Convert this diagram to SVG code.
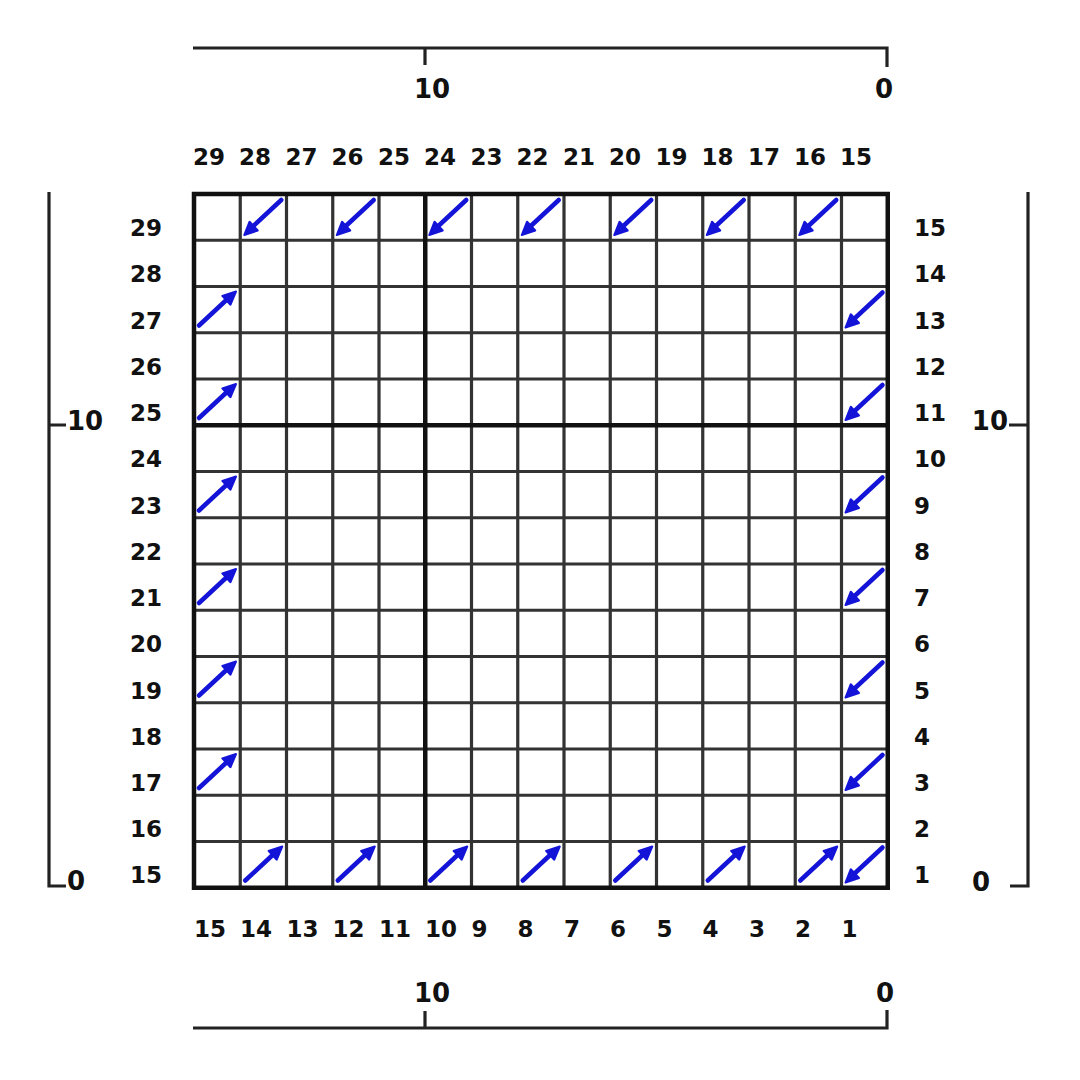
<svg xmlns="http://www.w3.org/2000/svg" xmlns:xlink="http://www.w3.org/1999/xlink" width="1080" height="1080" viewBox="0 0 1080 1080">
<style>
.t{font-family:"DejaVu Sans","Liberation Sans",sans-serif;font-weight:bold;font-size:23px;fill:#111}
.s{font-family:"DejaVu Sans","Liberation Sans",sans-serif;font-weight:bold;font-size:26px;fill:#111}
.g{stroke:#333;stroke-width:3.2;fill:none}
.k{stroke:#111;stroke-width:4.5;fill:none}
.b{stroke:#222;stroke-width:3.2;fill:none}
.a{stroke:#1414d8;stroke-width:4.5;fill:none;stroke-linecap:round}
.h{fill:#1414d8;stroke:#1414d8;stroke-width:2;stroke-linejoin:round}
</style>
<defs>
<g id="ne"><line class="a" x1="5" y1="39" x2="34" y2="12"/><polygon class="h" points="42,5 36.5,18.2 28.3,9.4"/></g>
<g id="sw"><line class="a" x1="41" y1="6" x2="12" y2="33"/><polygon class="h" points="4,41 17.5,36.5 9.3,27.7"/></g>
</defs>
<rect width="1080" height="1080" fill="#fff"/>
<g id="grid">
<path class="g" d="M240.25,194V888M286.5,194V888M332.75,194V888M379,194V888M471.5,194V888M517.75,194V888M564,194V888M610.25,194V888M656.5,194V888M702.75,194V888M749,194V888M795.25,194V888M841.5,194V888"/>
<path class="g" d="M194,240.25H888M194,286.5H888M194,332.75H888M194,379H888M194,471.5H888M194,517.75H888M194,564H888M194,610.25H888M194,656.5H888M194,702.75H888M194,749H888M194,795.25H888M194,841.5H888"/>
<path class="k" d="M425.25,194V888M194,425.25H888"/>
<rect class="k" x="194" y="194" width="693.75" height="693.75"/>
</g>
<g id="arrows">
<use xlink:href="#sw" x="240.25" y="194"/>
<use xlink:href="#sw" x="332.75" y="194"/>
<use xlink:href="#sw" x="425.25" y="194"/>
<use xlink:href="#sw" x="517.75" y="194"/>
<use xlink:href="#sw" x="610.25" y="194"/>
<use xlink:href="#sw" x="702.75" y="194"/>
<use xlink:href="#sw" x="795.25" y="194"/>
<use xlink:href="#ne" x="194" y="286.5"/>
<use xlink:href="#ne" x="194" y="379"/>
<use xlink:href="#ne" x="194" y="471.5"/>
<use xlink:href="#ne" x="194" y="564"/>
<use xlink:href="#ne" x="194" y="656.5"/>
<use xlink:href="#ne" x="194" y="749"/>
<use xlink:href="#sw" x="841.5" y="286.5"/>
<use xlink:href="#sw" x="841.5" y="379"/>
<use xlink:href="#sw" x="841.5" y="471.5"/>
<use xlink:href="#sw" x="841.5" y="564"/>
<use xlink:href="#sw" x="841.5" y="656.5"/>
<use xlink:href="#sw" x="841.5" y="749"/>
<use xlink:href="#sw" x="841.5" y="841.5"/>
<use xlink:href="#ne" x="240.25" y="841.5"/>
<use xlink:href="#ne" x="332.75" y="841.5"/>
<use xlink:href="#ne" x="425.25" y="841.5"/>
<use xlink:href="#ne" x="517.75" y="841.5"/>
<use xlink:href="#ne" x="610.25" y="841.5"/>
<use xlink:href="#ne" x="702.75" y="841.5"/>
<use xlink:href="#ne" x="795.25" y="841.5"/>
</g>
<g id="top-labels" class="t">
<text x="193" y="165">29</text><text x="239" y="165">28</text><text x="285.5" y="165">27</text><text x="331.5" y="165">26</text><text x="378" y="165">25</text><text x="424" y="165">24</text><text x="470.5" y="165">23</text><text x="516.5" y="165">22</text><text x="563" y="165">21</text><text x="609" y="165">20</text><text x="655.5" y="165">19</text><text x="701.5" y="165">18</text><text x="748" y="165">17</text><text x="794" y="165">16</text><text x="840" y="165">15</text>
</g>
<g id="bottom-labels" class="t">
<text x="194" y="937">15</text><text x="240" y="937">14</text><text x="286.5" y="937">13</text><text x="332.5" y="937">12</text><text x="379" y="937">11</text><text x="425" y="937">10</text><text x="471.5" y="937">9</text><text x="517.5" y="937">8</text><text x="564" y="937">7</text><text x="610" y="937">6</text><text x="656.5" y="937">5</text><text x="702.5" y="937">4</text><text x="749" y="937">3</text><text x="795" y="937">2</text><text x="841.5" y="937">1</text>
</g>
<g id="left-labels" class="t" text-anchor="end">
<text x="162" y="236">29</text><text x="162" y="282">28</text><text x="162" y="328.5">27</text><text x="162" y="374.5">26</text><text x="162" y="421">25</text><text x="162" y="467">24</text><text x="162" y="513.5">23</text><text x="162" y="559.5">22</text><text x="162" y="606">21</text><text x="162" y="652">20</text><text x="162" y="698.5">19</text><text x="162" y="744.5">18</text><text x="162" y="791">17</text><text x="162" y="837">16</text><text x="162" y="883">15</text>
</g>
<g id="right-labels" class="t">
<text x="914" y="236">15</text><text x="914" y="282">14</text><text x="914" y="328.5">13</text><text x="914" y="374.5">12</text><text x="914" y="421">11</text><text x="914" y="467">10</text><text x="914" y="513.5">9</text><text x="914" y="559.5">8</text><text x="914" y="606">7</text><text x="914" y="652">6</text><text x="914" y="698.5">5</text><text x="914" y="744.5">4</text><text x="914" y="791">3</text><text x="914" y="837">2</text><text x="914" y="883">1</text>
</g>
<g id="scales">
<path class="b" d="M193,48H887V67M425,48V65"/>
<path class="b" d="M193,1028H887V1010M425,1028V1011"/>
<path class="b" d="M49,192V886H66M49,425H66"/>
<path class="b" d="M1028,192V886H1010M1028,425H1009"/>
</g>
<g id="scale-labels" class="s">
<text x="432" y="98" text-anchor="middle">10</text>
<text x="884" y="98" text-anchor="middle">0</text>
<text x="432" y="1002" text-anchor="middle">10</text>
<text x="885" y="1002" text-anchor="middle">0</text>
<text x="67" y="430">10</text>
<text x="67" y="890">0</text>
<text x="1008" y="430" text-anchor="end">10</text>
<text x="972" y="891">0</text>
</g>
</svg>
